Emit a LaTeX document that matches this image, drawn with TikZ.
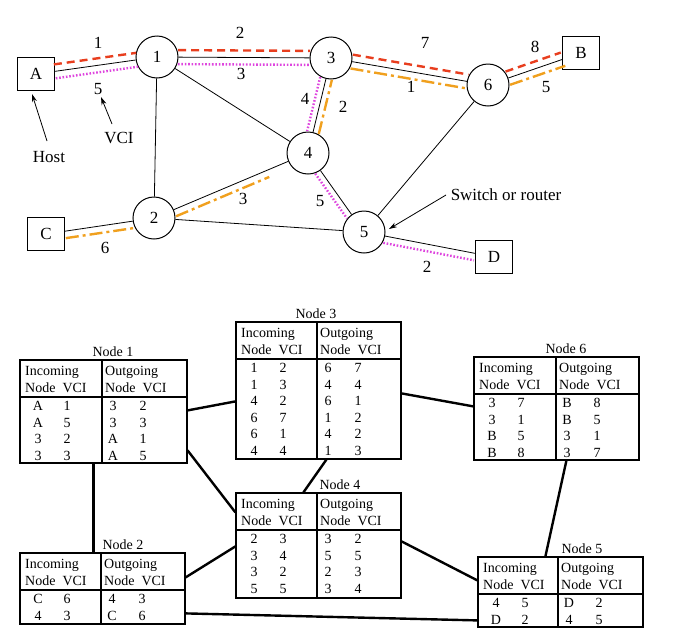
\documentclass[tikz,border=0pt]{standalone}
\usepackage{fontspec}
\setmainfont{Liberation Serif}
\usetikzlibrary{calc,fit,arrows.meta}
\definecolor{vred}{RGB}{232,62,30}
\definecolor{vmag}{RGB}{222,70,222}
\definecolor{vorg}{RGB}{240,160,30}
\tikzset{
  sw/.style={circle,draw,line width=1pt,minimum size=42pt,inner sep=0pt,font=\fontsize{17}{17}\selectfont},
  host/.style={draw,line width=1pt,minimum width=37pt,minimum height=33pt,inner sep=0pt,font=\fontsize{17}{17}\selectfont},
  link/.style={line width=0.8pt},
  lbl/.style={font=\fontsize{17}{17}\selectfont,inner sep=0pt},
  redp/.style={vred,line width=2.4pt,dash pattern=on 8pt off 5pt},
  magp/.style={vmag,line width=2.4pt,dash pattern=on 1.6pt off 1.8pt},
  orgp/.style={vorg,line width=2.4pt,dash pattern=on 13pt off 4pt on 3pt off 4pt},
  ptr/.style={-{Stealth[length=8pt,width=5pt]},line width=0.8pt},
  tline/.style={line width=2.4pt},
  tt/.style={font=\fontsize{14}{14}\selectfont,inner sep=0pt,anchor=base west},
  tc/.style={font=\fontsize{14}{14}\selectfont,inner sep=0pt,anchor=base},
}
\newcommand\seg[6]{\draw[#1,shorten <=#5,shorten >=#6] ($(#2)!#4!90:(#3)$) -- ($(#3)!#4!-90:(#2)$);}
% table: name, x1,y1,x2,y2, xdiv, title x, title, rows
\newcommand\vtab[9]{%
  \coordinate (#1a) at (#2,#3); \coordinate (#1b) at (#4,#5);
  \node[fit=(#1a)(#1b),inner sep=0pt,draw,line width=1.2pt] (#1) {};
  \draw[line width=1.2pt] (#6,#3) -- (#6,#5);
  \draw[line width=1.2pt] (#2,#3+37) -- (#4,#3+37);
  \node[tt] at (#2+5,#3+15) {Incoming};
  \node[tt] at (#2+5,#3+32) {Node\ \ VCI};
  \node[tt] at (#6+3,#3+15) {Outgoing};
  \node[tt] at (#6+3,#3+32) {Node\ \ VCI};
  \node[tc] at (#7,#3-4) {#8};
  \foreach \a/\b/\c/\d [count=\i] in {#9} {
    \node[tc] at (#2+18,#3+37+16.5*\i-3) {\a};
    \node[tc] at (#2+47,#3+37+16.5*\i-3) {\b};
    \node[tc] at (#6+11,#3+37+16.5*\i-3) {\c};
    \node[tc] at (#6+41,#3+37+16.5*\i-3) {\d};
  }}
\begin{document}
\begin{tikzpicture}[x=1pt,y=-1pt]
\useasboundingbox (0,0) rectangle (677,643);
% ---- network ----
\node[sw] (s1) at (157,57) {1};
\node[sw] (s3) at (331,58) {3};
\node[sw] (s6) at (488,85) {6};
\node[sw] (s4) at (308,153) {4};
\node[sw] (s2) at (154,218) {2};
\node[sw] (s5) at (364,232) {5};
\node[host] (hA) at (36,74) {A};
\node[host] (hB) at (581,53) {B};
\node[host] (hC) at (46,234) {C};
\node[host] (hD) at (494,257) {D};
\foreach \a/\b in {hA/s1,s1/s3,s3/s6,s6/hB,s1/s4,s1/s2,s3/s4,s2/s4,s2/s5,s4/s5,s6/s5,hC/s2,s5/hD}
  \draw[link] (\a) -- (\b);
% red path A-1-3-6-B
\seg{redp}{hA}{s1}{7pt}{19pt}{20pt}
\seg{redp}{s1}{s3}{7pt}{21pt}{21pt}
\seg{redp}{s3}{s6}{7pt}{21pt}{21pt}
\seg{redp}{s6}{hB}{7pt}{21pt}{19pt}
% magenta path A-1-3-4-5-D
\seg{magp}{hA}{s1}{-7pt}{19pt}{20pt}
\seg{magp}{s1}{s3}{-7pt}{21pt}{21pt}
\seg{magp}{s3}{s4}{-6pt}{21pt}{21pt}
\seg{magp}{s4}{s5}{-6pt}{21pt}{21pt}
\seg{magp}{s5}{hD}{-7pt}{21pt}{19pt}
% orange path C-2-4-3-6-B
\seg{orgp}{hC}{s2}{-7pt}{19pt}{21pt}
\seg{orgp}{s2}{s4}{-7pt}{21pt}{45pt}
\seg{orgp}{s4}{s3}{-6pt}{21pt}{21pt}
\seg{orgp}{s3}{s6}{-7pt}{21pt}{21pt}
\seg{orgp}{s6}{hB}{-7pt}{21pt}{19pt}
% VCI labels
\node[lbl] (v1) at (98,43) {1};
\node[lbl] (v2) at (240,33) {2};
\node[lbl] (v7) at (425,43) {7};
\node[lbl] (v8) at (535,47) {8};
\node[lbl] (v3a) at (241,74) {3};
\node[lbl] (v1b) at (411,87) {1};
\node[lbl] (v5b) at (546,87) {5};
\node[lbl] (v4) at (305,99) {4};
\node[lbl] (v2b) at (343,107) {2};
\node[lbl] (v5a) at (98,89) {5};
\node[lbl] (v3b) at (243,199) {3};
\node[lbl] (v5c) at (320,201) {5};
\node[lbl] (v6) at (105,248) {6};
\node[lbl] (v2c) at (427,267) {2};
\node[lbl] (vci) at (119,138) {VCI};
\node[lbl] (host) at (49,157) {Host};
\node[lbl] (swr) at (506,195) {Switch or router};
\coordinate (hostT) at (47,141);
\coordinate (hostH) at (32,94);
\coordinate (vciT) at (112,124);
\coordinate (vciH) at (101,97);
\coordinate (swT) at (446,195);
\coordinate (swH) at (389,229);
\draw[ptr] (hostT) -- (hostH);
\draw[ptr] (vciT) -- (vciH);
\draw[ptr] (swT) -- (swH);
% ---- tables ----
\vtab{t1}{20}{360}{187}{463}{102}{113}{Node 1}{A/1/3/2,A/5/3/3,3/2/A/1,3/3/A/5}
\vtab{t3}{236}{322}{401}{459}{317}{316}{Node 3}{1/2/6/7,1/3/4/4,4/2/6/1,6/7/1/2,6/1/4/2,4/4/1/3}
\vtab{t6}{474}{357}{639}{460}{556}{566}{Node 6}{3/7/B/8,3/1/B/5,B/5/3/1,B/8/3/7}
\vtab{t4}{236}{493}{401}{598}{317}{340}{Node 4}{2/3/3/2,3/4/5/5,3/2/2/3,5/5/3/4}
\vtab{t2}{20}{553}{185}{624}{101}{123}{Node 2}{C/6/4/3,4/3/C/6}
\vtab{t5}{478}{557}{643}{627}{558}{582}{Node 5}{4/5/D/2,D/2/4/5}
\draw[tline] ([yshift=-51pt]t1.north east) -- ([yshift=-80pt]t3.north west);
\draw[tline] ([yshift=-91pt]t1.north east) -- ([yshift=-20pt]t4.north west);
\draw[tline] ([xshift=74pt]t1.south west) -- ([xshift=74pt]t2.north west);
\draw[tline] ([xshift=91pt]t3.south west) -- ([xshift=68pt]t4.north west);
\draw[tline] ([yshift=-72pt]t3.north east) -- ([yshift=-50pt]t6.north west);
\draw[tline] ([yshift=-25pt]t2.north east) -- ([yshift=-54pt]t4.north west);
\draw[tline] ([yshift=-49pt]t4.north east) -- ([yshift=-24pt]t5.north west);
\draw[tline] ([xshift=93pt]t6.south west) -- ([xshift=68pt]t5.north west);
\draw[tline] ([yshift=-61pt]t2.north east) -- ([yshift=-64pt]t5.north west);
\end{tikzpicture}
\end{document}
